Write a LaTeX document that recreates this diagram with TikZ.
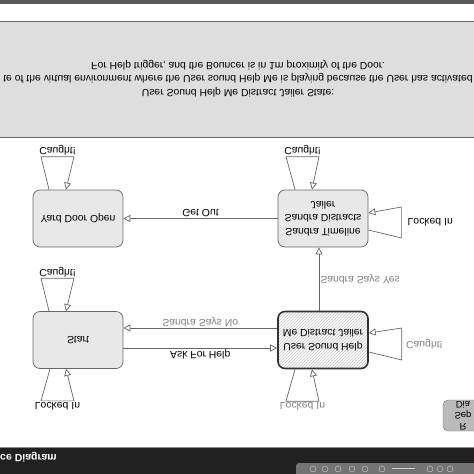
\documentclass[tikz,border=0pt]{standalone}
\usepackage{fontspec}
\setmainfont{Liberation Sans}
\usetikzlibrary{arrows.meta,positioning,patterns}
\definecolor{boxgray}{rgb}{0.91,0.91,0.91}
\definecolor{linegray}{rgb}{0.40,0.40,0.40}
\definecolor{dimtext}{rgb}{0.50,0.50,0.50}
\definecolor{panel}{rgb}{0.87,0.87,0.87}
\definecolor{barblack}{rgb}{0.13,0.13,0.13}

\tikzset{
  state/.style={draw=linegray,line width=0.7pt,fill=boxgray,rounded corners=7pt,minimum width=90pt,minimum height=57pt,align=center,inner sep=2pt,font=\fontsize{10.4}{13.5}\selectfont},
  active/.style={draw=black!80,line width=1.6pt,preaction={fill=white},pattern=north east lines,pattern color=black!25},
  trans/.style={draw=linegray,line width=0.7pt,-{Triangle[open,length=7pt,width=7pt]}},
  lbl/.style={font=\fontsize{10.4}{12}\selectfont,inner sep=1pt},
  dim/.style={text=dimtext},
  desc/.style={align=center,font=\fontsize{10.4}{13.5}\selectfont},
}

\begin{document}
\begin{tikzpicture}[x=1pt,y=1pt,yscale=-1,transform shape]
  \useasboundingbox (0,0) rectangle (474,474);
  \clip (0,0) rectangle (474,474);
  % header
  \fill[black!65] (0,0) rectangle (474,4);
  \draw[fill=panel,draw=black!60,line width=1pt] (-2,21) rectangle (476,137);
  \node[desc] (note) at (238,78.5) {User Sound Help Me Distract Jailer State:\\te of the virtual environment where the User sound Help Me is playing because the User has activated\\For Help trigger, and the Bouncer is in 1m proximity of the Door.};

  % states
  \node[state] (yard) at (78,218.5) {Yard Door Open};
  \node[state] (timeline) at (323,218.5) {Sandra Timeline\\Sandra Distracts\\Jailer};
  \node[state] (start) at (78,340) {Start};
  \node[state,active] (help) at (323,340) {User Sound Help\\Me Distract Jailer};

  % transitions
  \draw[trans] (timeline.west) -- node[lbl,below]{Get Out} (yard.east);
  \draw[trans] ([yshift=-12pt]help.west) -- node[lbl,dim,below]{Sandra Says No} ([yshift=-12pt]start.east);
  \draw[trans] ([yshift=8pt]start.east) -- node[lbl,above]{Ask For Help} ([yshift=8pt]help.west);
  \draw[trans] ([xshift=-4pt]help.south) -- node[lbl,dim,right]{Sandra Says Yes} ([xshift=-4pt]timeline.north);

  % self loops
  \draw[trans] ([xshift=-29pt]yard.south) -- ++(-8,-33) -- node[lbl,below]{Caught!} ++(33,0) -- ([xshift=-12pt]yard.south);
  \draw[trans] ([xshift=-28pt]timeline.south) -- ++(-9,-33) -- node[lbl,below]{Caught!} ++(33,0) -- ([xshift=-11pt]timeline.south);
  \draw[trans] ([yshift=11.5pt]timeline.east) -- ++(33,8) -- node[lbl,right=5pt]{Locked In} ++(0,-31) -- ([yshift=-5.5pt]timeline.east);
  \draw[trans] ([xshift=-29pt]start.south) -- ++(-8,-33) -- node[lbl,below]{Caught!} ++(33,0) -- ([xshift=-12pt]start.south);
  \draw[trans] ([xshift=-28pt]start.north) -- ++(-9,32) -- node[lbl,above]{Locked In} ++(33,0) -- ([xshift=-12pt]start.north);
  \draw[trans] ([yshift=12pt]help.east) -- ++(33,8) -- node[lbl,dim,right=3pt]{Caught!} ++(0,-32) -- ([yshift=-7pt]help.east);
  \draw[trans] ([xshift=-28pt]help.north) -- ++(-9,32) -- node[lbl,dim,above]{Locked In} ++(33,0) -- ([xshift=-11pt]help.north);

  % back button, cut at the edge
  \node[draw=black!55,fill=black!27,rounded corners=5pt,minimum width=40pt,minimum height=31pt,align=center,inner sep=1pt,font=\fontsize{9.5}{11}\selectfont] (back) at (463,415.5) {R\\Sep\\Dia};

  % toolbar
  \fill[barblack] (0,448) rectangle (474,474);
  \draw[black!45] (0,447.5) -- (474,447.5);
  \node[anchor=west,text=white,inner sep=0pt,font=\fontsize{10.5}{11}\bfseries] (title) at (0,457) {ce Diagram};
  \fill[black!55,rounded corners=3pt] (296,463) rectangle (480,478);
  \foreach \px in {313,325,338,352,365,382,430,440,450}
    \draw[black!20] (\px,469) circle (3);
  \draw[black!20] (392,468) -- (415,468);
\end{tikzpicture}
\end{document}
